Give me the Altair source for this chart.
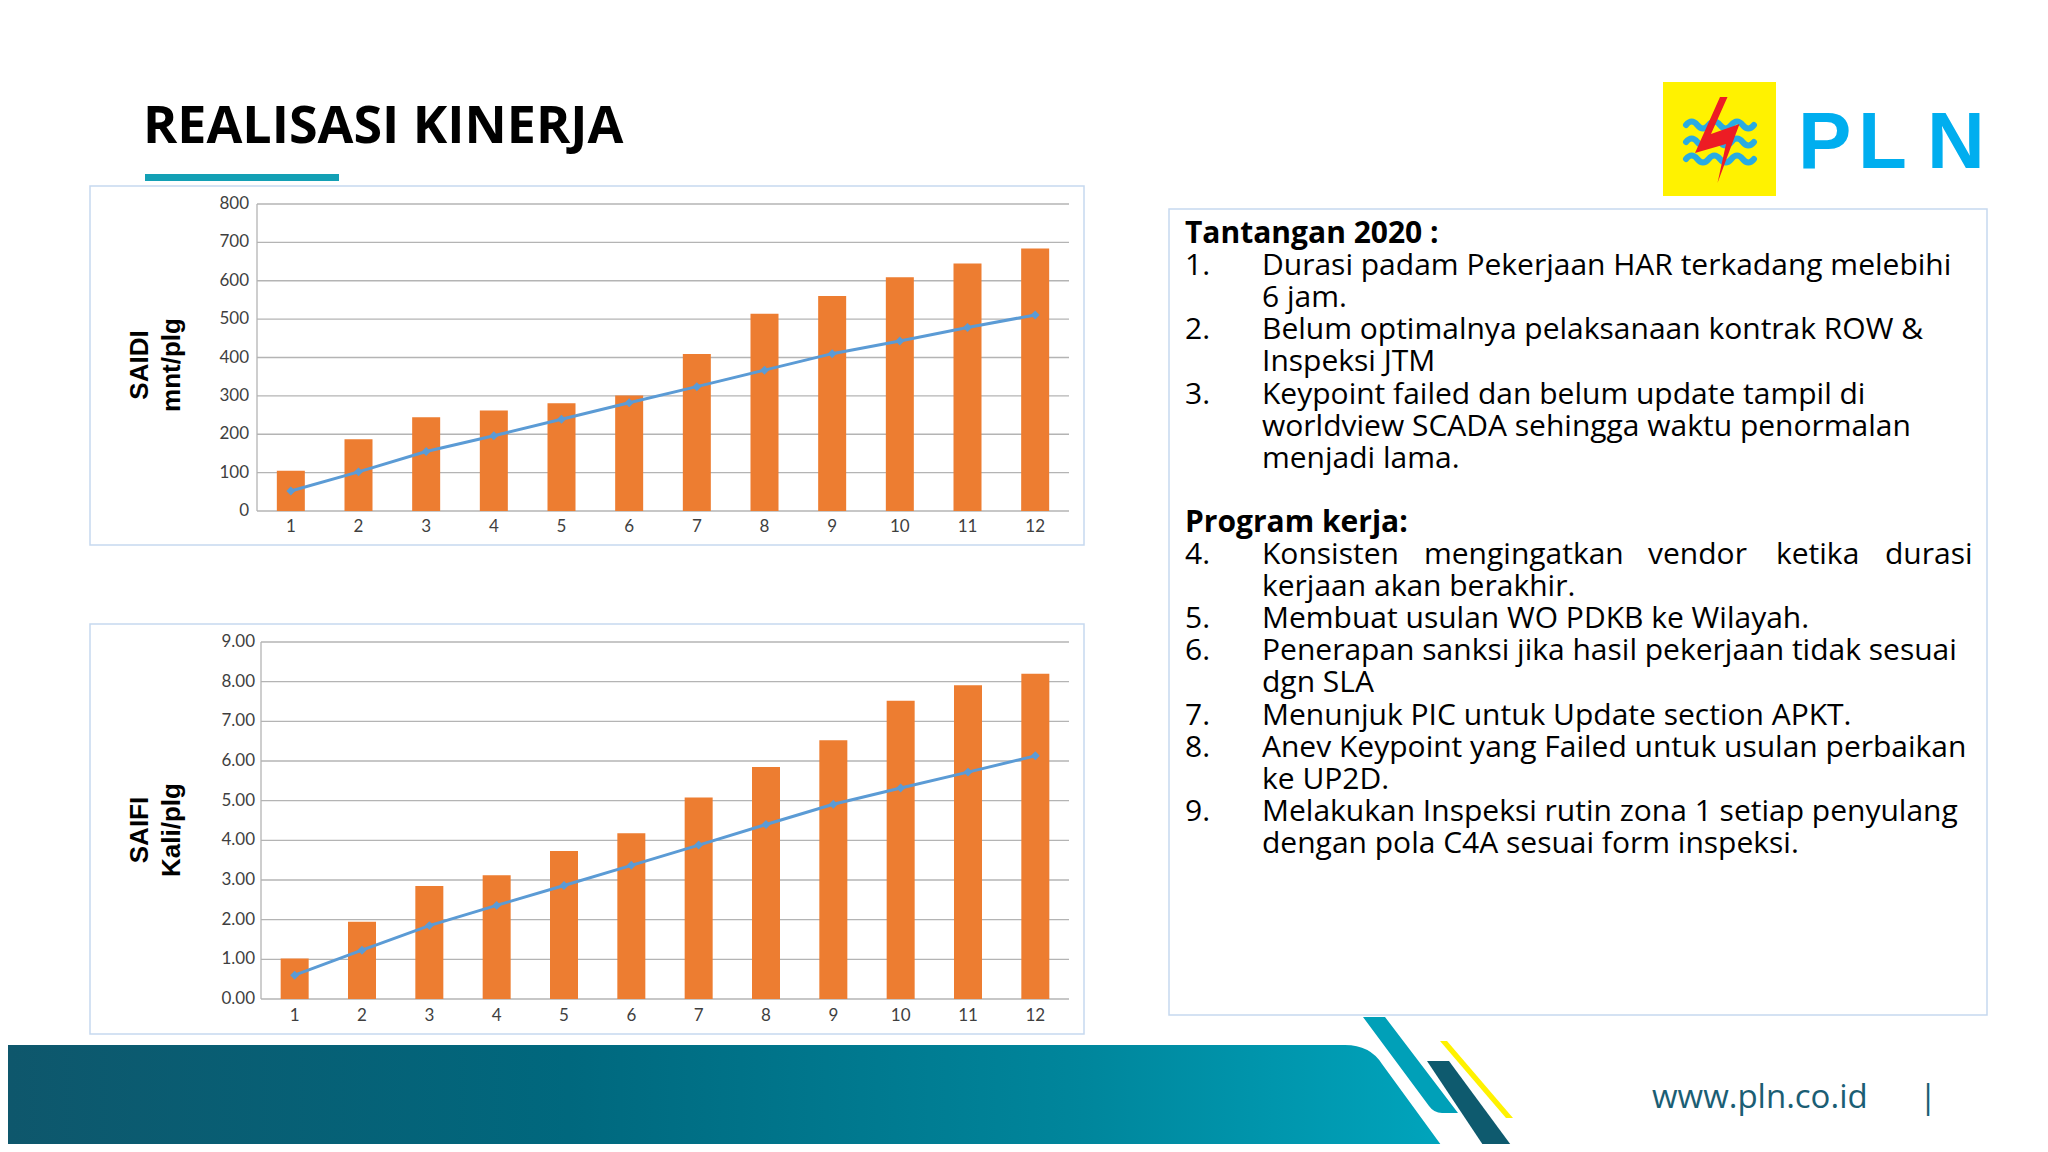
import altair as alt
import pandas as pd

# ---------------- data ----------------
months = list(range(1, 13))
saidi_real = [105, 187, 244, 262, 281, 301, 409, 514, 560, 609, 645, 684]
saidi_target = [52, 102, 155, 196, 239, 282, 324, 367, 410, 443, 478, 511]
saifi_real = [1.02, 1.95, 2.85, 3.12, 3.73, 4.18, 5.08, 5.85, 6.52, 7.52, 7.91, 8.20]
saifi_target = [0.60, 1.23, 1.85, 2.36, 2.86, 3.37, 3.88, 4.40, 4.91, 5.32, 5.72, 6.13]
saidi_ticks = [0, 100, 200, 300, 400, 500, 600, 700, 800]
saifi_ticks = [0, 1, 2, 3, 4, 5, 6, 7, 8, 9]

title_text = "REALISASI KINERJA"
text_numbers = ["", "1.", "", "2.", "", "3.", "", "", "", "", "4.", "", "5.", "6.", "", "7.", "8.", "", "9.", ""]
text_lines = [
    "Tantangan 2020 :",
    "Durasi padam Pekerjaan HAR terkadang melebihi",
    "6 jam.",
    "Belum optimalnya pelaksanaan kontrak ROW &",
    "Inspeksi JTM",
    "Keypoint failed dan belum update tampil di",
    "worldview SCADA sehingga waktu penormalan",
    "menjadi lama.",
    "",
    "Program kerja:",
    "",  # justified line drawn word by word below
    "kerjaan akan berakhir.",
    "Membuat usulan WO PDKB ke Wilayah.",
    "Penerapan sanksi jika hasil pekerjaan tidak sesuai",
    "dgn SLA",
    "Menunjuk PIC untuk Update section APKT.",
    "Anev Keypoint yang Failed untuk usulan perbaikan",
    "ke UP2D.",
    "Melakukan Inspeksi rutin zona 1 setiap penyulang",
    "dengan pola C4A sesuai form inspeksi.",
]
justified_words = ["Konsisten", "mengingatkan", "vendor", "ketika", "durasi"]
heading_rows = [0, 9]

# ---------------- helpers ----------------
OFF = 8
W, H = 2032, 1136


def px(v):
    return v - OFF


ONE = pd.DataFrame({"a": [0]})


def shape_path(cmds, cx, cy, k=100.0):
    out = []
    for c in cmds:
        op, pts = c[0], c[1:]
        coords = []
        for i in range(0, len(pts), 2):
            coords.append(f"{(pts[i] - cx) / k:.4f},{(pts[i + 1] - cy) / k:.4f}")
        out.append(op + " ".join(coords))
    return " ".join(out)


def poly(points):
    cmds = [("M",) + tuple(points[0])]
    for p in points[1:]:
        cmds.append(("L",) + tuple(p))
    cmds.append(("Z",))
    return cmds


def shape_mark(cmds, cx, cy, k=100.0, **kw):
    return alt.Chart(ONE).mark_point(
        shape=shape_path(cmds, cx, cy, k), size=(2 * k) ** 2, opacity=1, **kw
    ).encode(x=alt.value(px(cx)), y=alt.value(px(cy)))


def box(x1, y1, x2, y2, **kw):
    return alt.Chart(ONE).mark_rect(**kw).encode(
        x=alt.value(px(x1)), x2=alt.value(px(x2)), y=alt.value(px(y1)), y2=alt.value(px(y2))
    )


def label(text, x, y, **kw):
    return alt.Chart(ONE).mark_text(text=text, **kw).encode(x=alt.value(px(x)), y=alt.value(px(y)))


# ---------------- chart panels ----------------
BAR = "#ED7D31"
LINE = "#5B9BD5"
GRID = "#B4B4B4"
TICK = "#3F3F3F"


def panel(real, target, ticks, fmt, x_left, x_right, y_bottom, y_top, lab_right, xlab_y, ymax):
    df = pd.DataFrame({"bulan": months, "real": real, "target": target})
    tdf = pd.DataFrame({"v": ticks})
    xs = alt.Scale(domain=months, range=[px(x_left), px(x_right)], paddingInner=0, paddingOuter=0)
    ys = alt.Scale(domain=[0, ymax], range=[px(y_bottom), px(y_top)], nice=False, zero=True)
    X = alt.X("bulan:O", scale=xs, axis=None)
    grid = alt.Chart(tdf).mark_rule(color=GRID, strokeWidth=1.3).encode(
        y=alt.Y("v:Q", scale=ys, axis=None), x=alt.value(px(x_left)), x2=alt.value(px(x_right))
    )
    yline = alt.Chart(ONE).mark_rule(color=GRID, strokeWidth=1.3).encode(
        x=alt.value(px(x_left)), y=alt.value(px(y_top)), y2=alt.value(px(y_bottom))
    )
    bars = alt.Chart(df).mark_bar(color=BAR, size=28).encode(x=X, y=alt.Y("real:Q", scale=ys, axis=None))
    line = alt.Chart(df).mark_line(color=LINE, strokeWidth=3).encode(
        x=X, y=alt.Y("target:Q", scale=ys, axis=None)
    )
    pts = alt.Chart(df).mark_point(shape="diamond", filled=True, size=80, color=LINE, opacity=1).encode(
        x=X, y=alt.Y("target:Q", scale=ys, axis=None)
    )
    tl = alt.Chart(tdf).mark_text(align="right", baseline="middle", font="Lato", fontSize=17, color=TICK).encode(
        y=alt.Y("v:Q", scale=ys, axis=None), x=alt.value(px(lab_right)), text=alt.Text("v:Q", format=fmt)
    )
    xl = alt.Chart(df).mark_text(baseline="middle", font="Lato", fontSize=17, color=TICK).encode(
        x=X, y=alt.value(px(xlab_y)), text="bulan:O"
    )
    return alt.layer(grid, yline, bars, line, pts, tl, xl)


chart1 = panel(saidi_real, saidi_target, saidi_ticks, "d", 257, 1069, 511, 204, 249, 527, 800)
chart2 = panel(saifi_real, saifi_target, saifi_ticks, ".2f", 261, 1069, 999, 642, 255, 1016, 9)

# ---------------- text box ----------------
LINE0, LSTEP = 243, 32.1
tdf_all = pd.DataFrame({"i": list(range(len(text_lines))), "num": text_numbers, "txt": text_lines})
ty = alt.Scale(domain=[0, len(text_lines) - 1], range=[px(LINE0), px(LINE0 + 19 * LSTEP)], nice=False, zero=False)
TY = alt.Y("i:Q", scale=ty, axis=None)
TXT_FONT = "Open Sans"
TXT_SIZE = 30
head_df = tdf_all[tdf_all["i"].isin(heading_rows)]
item_df = tdf_all[(~tdf_all["i"].isin(heading_rows)) & (tdf_all["txt"] != "")]
num_df = tdf_all[tdf_all["num"] != ""]

headings = alt.Chart(head_df).mark_text(
    align="left", baseline="alphabetic", font=TXT_FONT, fontSize=TXT_SIZE, fontWeight="bold", color="#000000"
).encode(y=TY, x=alt.value(px(1185)), text="txt:N")
items = alt.Chart(item_df).mark_text(
    align="left", baseline="alphabetic", font=TXT_FONT, fontSize=TXT_SIZE, color="#000000"
).encode(y=TY, x=alt.value(px(1262)), text="txt:N")
nums = alt.Chart(num_df).mark_text(
    align="left", baseline="alphabetic", font=TXT_FONT, fontSize=TXT_SIZE, color="#000000"
).encode(y=TY, x=alt.value(px(1185)), text="num:N")
textbox = alt.layer(headings, items, nums)

# justified line (item 4), words spread evenly to the full column width
word_x = [1262, 1424, 1648, 1776, 1885]
just_y = LINE0 + 10 * LSTEP
just_words = [
    label(w, xx, just_y, align="left", baseline="alphabetic", font=TXT_FONT, fontSize=TXT_SIZE, color="#000000")
    for w, xx in zip(justified_words, word_x)
]

# ---------------- decorations ----------------
BORDER = "#C6D9F0"
frames = [
    box(90, 186, 1084, 545, fill="white", stroke=BORDER, strokeWidth=1.5),
    box(90, 624, 1084, 1034, fill="white", stroke=BORDER, strokeWidth=1.5),
    box(1169, 209, 1987, 1015, fill="white", stroke=BORDER, strokeWidth=1.5),
]

title = label(title_text, 143, 143, align="left", baseline="alphabetic", font="Open Sans",
              fontWeight="bold", fontSize=52, color="#000000")
underline = box(145, 174, 339, 181, color="#13A0B5")

axis_titles = [
    label("SAIDI", 140, 365, angle=270, align="center", baseline="middle", font="Liberation Sans",
          fontWeight="bold", fontSize=26, color="#000000"),
    label("mnt/plg", 172, 365, angle=270, align="center", baseline="middle", font="Liberation Sans",
          fontWeight="bold", fontSize=26, color="#000000"),
    label("SAIFI", 140, 830, angle=270, align="center", baseline="middle", font="Liberation Sans",
          fontWeight="bold", fontSize=26, color="#000000"),
    label("Kali/plg", 172, 830, angle=270, align="center", baseline="middle", font="Liberation Sans",
          fontWeight="bold", fontSize=26, color="#000000"),
]

# footer band with gradient
footer_cmds = [
    ("M", -20, 1045), ("L", 1345, 1045), ("Q", 1370, 1045, 1382, 1064),
    ("L", 1452, 1160), ("L", -20, 1160), ("Z",),
]
footer_grad = alt.LinearGradient(
    gradient="linear", x1=0, x2=1, y1=0, y2=0,
    stops=[
        alt.GradientStop(color="#0F566B", offset=0),
        alt.GradientStop(color="#00687E", offset=0.4),
        alt.GradientStop(color="#00869C", offset=0.75),
        alt.GradientStop(color="#00A5BD", offset=1),
    ],
)
footer = shape_mark(footer_cmds, 700, 1100, k=400, filled=True, fill=footer_grad, strokeWidth=0)
stripe1 = shape_mark(
    [("M", 1363, 1017), ("L", 1385, 1017), ("L", 1458, 1113), ("L", 1442, 1113),
     ("Q", 1434, 1113, 1429, 1106), ("Z",)],
    1410, 1065, k=100, filled=True, color="#00A0B8", strokeWidth=0)
stripe2 = shape_mark(poly([(1427, 1061), (1449, 1061), (1522, 1160), (1493, 1160)]),
                     1470, 1110, k=100, filled=True, color="#0E5A6E", strokeWidth=0)
stripe3 = shape_mark(poly([(1440, 1041), (1447, 1041), (1513, 1118), (1506, 1118)]),
                     1475, 1080, k=100, filled=True, color="#FFF200", strokeWidth=0)
www = label("www.pln.co.id", 1652, 1108, align="left", baseline="alphabetic", font="Open Sans",
            fontSize=33, color="#1B5E74")
bar_sep = label("|", 1928, 1108, align="center", baseline="alphabetic", font="Open Sans",
                fontSize=33, color="#1B5E74")

# logo
logo_box = box(1663, 82, 1776, 196, color="#FFF200")
wave_cmds = []
for wy in (125, 142, 159):
    x0 = 1686
    step = 68 / 6
    wave_cmds.append(("M", x0, wy))
    for j in range(6):
        sgn = -1 if j % 2 == 0 else 1
        wave_cmds.append(("Q", x0 + step * (j + 0.5), wy + sgn * 7, x0 + step * (j + 1), wy))
waves = shape_mark(wave_cmds, 1720, 140, k=50, filled=False, color="#29ABE2", strokeWidth=6,
                   strokeCap="round")
bolt = shape_mark(poly([(1720, 97), (1727.5, 97), (1711, 134), (1739.5, 124), (1717.5, 183),
                        (1726, 144), (1695, 153)]),
                  1718, 140, k=50, filled=True, color="#ED1C24", strokeWidth=0)
pln = [
    label("P", 1798, 168, align="left", baseline="alphabetic", font="Liberation Sans", fontWeight="bold",
          fontSize=80, color="#00AEEF"),
    label("L", 1858, 168, align="left", baseline="alphabetic", font="Liberation Sans", fontWeight="bold",
          fontSize=80, color="#00AEEF"),
    label("N", 1927, 168, align="left", baseline="alphabetic", font="Liberation Sans", fontWeight="bold",
          fontSize=80, color="#00AEEF"),
]

chart = alt.layer(
    footer, stripe1, stripe2, stripe3, www, bar_sep,
    *frames, title, underline, *axis_titles,
    logo_box, waves, bolt, *pln,
    chart1, chart2, textbox, *just_words,
).resolve_scale(x="independent", y="independent").properties(
    width=W, height=H, autosize=alt.AutoSizeParams(type="none"), padding=0, background="white"
).configure_view(stroke=None)

chart.save("out.html", embed_options={"renderer": "svg", "actions": False})
